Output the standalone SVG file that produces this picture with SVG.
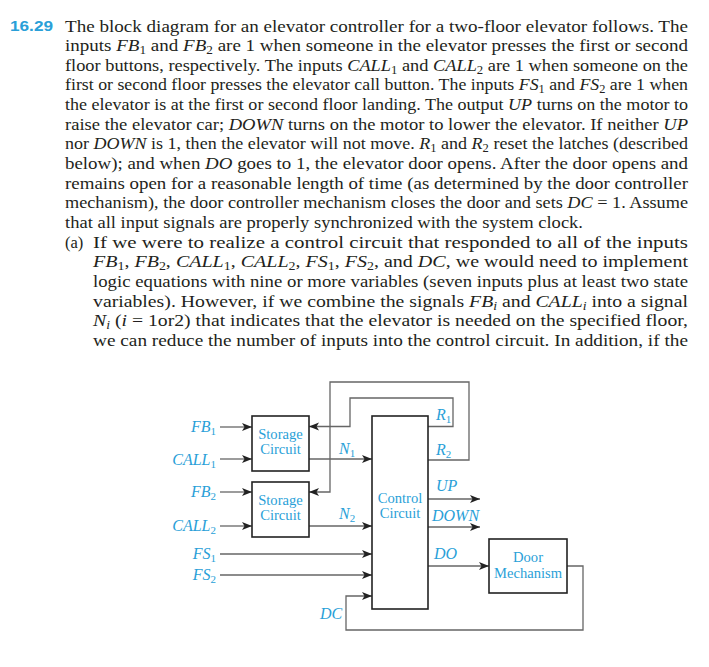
<svg xmlns="http://www.w3.org/2000/svg" width="709" height="667" viewBox="0 0 709 667">
<defs>
<style>
.t{font-family:"Liberation Serif",serif;font-size:16.5px;fill:#231f20}
.i{font-style:italic}
.s{font-size:11.5px}
.lb{font-family:"Liberation Serif",serif;font-size:16px;font-style:italic;fill:#2a9fd8}
.ls{font-size:11px;font-style:normal}
.bx{font-family:"Liberation Serif",serif;font-size:14.6px;fill:#2a9fd8;text-anchor:middle}
.w{fill:none;stroke:#666;stroke-width:1.3}
.box{fill:#fff;stroke:#222;stroke-width:1.6}
</style>
<marker id="ah" markerUnits="userSpaceOnUse" markerWidth="11" markerHeight="9" refX="10" refY="4" orient="auto">
<path d="M0,0 L10,4 L0,8 L2.5,4 Z" fill="#222"/>
</marker>
</defs>
<rect width="709" height="667" fill="#fff"/>
<g id="text">
<text x="10" y="31" font-family="Liberation Sans,sans-serif" font-weight="bold" font-size="15.5" fill="#2a9fd8" textLength="43" lengthAdjust="spacingAndGlyphs">16.29</text>
<text class="t" x="65" y="31.5" textLength="623" lengthAdjust="spacingAndGlyphs">The block diagram for an elevator controller for a two-floor elevator follows. The</text>
<text class="t" x="65" y="51.15" textLength="623" lengthAdjust="spacingAndGlyphs">inputs <tspan class="i">FB</tspan><tspan class="s" dy="3">1</tspan><tspan dy="-3"> and </tspan><tspan class="i">FB</tspan><tspan class="s" dy="3">2</tspan><tspan dy="-3"> are 1 when someone in the elevator presses the first or second</tspan></text>
<text class="t" x="65" y="70.8" textLength="623" lengthAdjust="spacingAndGlyphs">floor buttons, respectively. The inputs <tspan class="i">CALL</tspan><tspan class="s" dy="3">1</tspan><tspan dy="-3"> and </tspan><tspan class="i">CALL</tspan><tspan class="s" dy="3">2</tspan><tspan dy="-3"> are 1 when someone on the</tspan></text>
<text class="t" x="65" y="90.45" textLength="623" lengthAdjust="spacingAndGlyphs">first or second floor presses the elevator call button. The inputs <tspan class="i">FS</tspan><tspan class="s" dy="3">1</tspan><tspan dy="-3"> and </tspan><tspan class="i">FS</tspan><tspan class="s" dy="3">2</tspan><tspan dy="-3"> are 1 when</tspan></text>
<text class="t" x="65" y="110.1" textLength="623" lengthAdjust="spacingAndGlyphs">the elevator is at the first or second floor landing. The output <tspan class="i">UP</tspan> turns on the motor to</text>
<text class="t" x="65" y="129.75" textLength="623" lengthAdjust="spacingAndGlyphs">raise the elevator car; <tspan class="i">DOWN</tspan> turns on the motor to lower the elevator. If neither <tspan class="i">UP</tspan></text>
<text class="t" x="65" y="149.4" textLength="623" lengthAdjust="spacingAndGlyphs">nor <tspan class="i">DOWN</tspan> is 1, then the elevator will not move. <tspan class="i">R</tspan><tspan class="s" dy="3">1</tspan><tspan dy="-3"> and </tspan><tspan class="i">R</tspan><tspan class="s" dy="3">2</tspan><tspan dy="-3"> reset the latches (described</tspan></text>
<text class="t" x="65" y="169.05" textLength="623" lengthAdjust="spacingAndGlyphs">below); and when <tspan class="i">DO</tspan> goes to 1, the elevator door opens. After the door opens and</text>
<text class="t" x="65" y="188.7" textLength="623" lengthAdjust="spacingAndGlyphs">remains open for a reasonable length of time (as determined by the door controller</text>
<text class="t" x="65" y="208.35" textLength="623" lengthAdjust="spacingAndGlyphs">mechanism), the door controller mechanism closes the door and sets <tspan class="i">DC</tspan> = 1. Assume</text>
<text class="t" x="65" y="228" textLength="518" lengthAdjust="spacingAndGlyphs">that all input signals are properly synchronized with the system clock.</text>
<text class="t" x="65" y="247.65">(a)</text>
<text class="t" x="93" y="247.65" textLength="595" lengthAdjust="spacingAndGlyphs">If we were to realize a control circuit that responded to all of the inputs</text>
<text class="t" x="93" y="267.3" textLength="595" lengthAdjust="spacingAndGlyphs"><tspan class="i">FB</tspan><tspan class="s" dy="3">1</tspan><tspan dy="-3">, </tspan><tspan class="i">FB</tspan><tspan class="s" dy="3">2</tspan><tspan dy="-3">, </tspan><tspan class="i">CALL</tspan><tspan class="s" dy="3">1</tspan><tspan dy="-3">, </tspan><tspan class="i">CALL</tspan><tspan class="s" dy="3">2</tspan><tspan dy="-3">, </tspan><tspan class="i">FS</tspan><tspan class="s" dy="3">1</tspan><tspan dy="-3">, </tspan><tspan class="i">FS</tspan><tspan class="s" dy="3">2</tspan><tspan dy="-3">, and </tspan><tspan class="i">DC</tspan>, we would need to implement</text>
<text class="t" x="93" y="286.95" textLength="595" lengthAdjust="spacingAndGlyphs">logic equations with nine or more variables (seven inputs plus at least two state</text>
<text class="t" x="93" y="306.6" textLength="595" lengthAdjust="spacingAndGlyphs">variables). However, if we combine the signals <tspan class="i">FB</tspan><tspan class="s i" dy="3">i</tspan><tspan dy="-3"> and </tspan><tspan class="i">CALL</tspan><tspan class="s i" dy="3">i</tspan><tspan dy="-3"> into a signal</tspan></text>
<text class="t" x="93" y="326.25" textLength="595" lengthAdjust="spacingAndGlyphs"><tspan class="i">N</tspan><tspan class="s i" dy="3">i</tspan><tspan dy="-3"> (</tspan><tspan class="i">i</tspan> = 1or2) that indicates that the elevator is needed on the specified floor,</text>
<text class="t" x="93" y="345.9" textLength="595" lengthAdjust="spacingAndGlyphs">we can reduce the number of inputs into the control circuit. In addition, if the</text>
</g>
<g id="connectors">
<line class="w" x1="220" y1="427" x2="252" y2="427" marker-end="url(#ah)"/>
<line class="w" x1="220" y1="459" x2="252" y2="459" marker-end="url(#ah)"/>
<line class="w" x1="220" y1="492" x2="252" y2="492" marker-end="url(#ah)"/>
<line class="w" x1="220" y1="526" x2="252" y2="526" marker-end="url(#ah)"/>
<line class="w" x1="309" y1="459" x2="372" y2="459" marker-end="url(#ah)"/>
<line class="w" x1="309" y1="526" x2="372" y2="526" marker-end="url(#ah)"/>
<line class="w" x1="220" y1="554" x2="372" y2="554" marker-end="url(#ah)"/>
<line class="w" x1="220" y1="575" x2="372" y2="575" marker-end="url(#ah)"/>
<polyline class="w" points="567,566 583,566 583,630 346,630 346,596 372,596" marker-end="url(#ah)"/>
<polyline class="w" points="428,426.5 453,426.5 453,398 350,398 350,426.5 309,426.5" marker-end="url(#ah)"/>
<polyline class="w" points="428,460 469,460 469,382 330,382 330,492 309,492" marker-end="url(#ah)"/>
<line class="w" x1="428" y1="499" x2="480" y2="499" marker-end="url(#ah)"/>
<line class="w" x1="428" y1="527" x2="480" y2="527" marker-end="url(#ah)"/>
<line class="w" x1="428" y1="566" x2="489" y2="566" marker-end="url(#ah)"/>
</g>
<g id="storage1">
<rect class="box" x="252" y="416" width="57" height="55"/>
<text class="bx" x="280.5" y="439">Storage</text>
<text class="bx" x="280.5" y="454">Circuit</text>
</g>
<g id="storage2">
<rect class="box" x="252" y="482" width="57" height="55"/>
<text class="bx" x="280.5" y="505">Storage</text>
<text class="bx" x="280.5" y="520">Circuit</text>
</g>
<g id="control">
<rect class="box" x="372" y="416" width="56" height="193"/>
<text class="bx" x="400" y="503">Control</text>
<text class="bx" x="400" y="518">Circuit</text>
</g>
<g id="door">
<rect class="box" x="489" y="539" width="78" height="54" stroke-width="2"/>
<text class="bx" x="528" y="562">Door</text>
<text class="bx" x="528" y="578">Mechanism</text>
</g>
<g id="labels">
<text class="lb" x="216" y="432" text-anchor="end">FB<tspan class="ls" dy="3">1</tspan></text>
<text class="lb" x="216" y="465" text-anchor="end">CALL<tspan class="ls" dy="3">1</tspan></text>
<text class="lb" x="216" y="497" text-anchor="end">FB<tspan class="ls" dy="3">2</tspan></text>
<text class="lb" x="216" y="531" text-anchor="end">CALL<tspan class="ls" dy="3">2</tspan></text>
<text class="lb" x="216" y="559" text-anchor="end">FS<tspan class="ls" dy="3">1</tspan></text>
<text class="lb" x="216" y="580" text-anchor="end">FS<tspan class="ls" dy="3">2</tspan></text>
<text class="lb" x="339" y="454">N<tspan class="ls" dy="3">1</tspan></text>
<text class="lb" x="339" y="519">N<tspan class="ls" dy="3">2</tspan></text>
<text class="lb" x="320" y="619">DC</text>
<text class="lb" x="436" y="420">R<tspan class="ls" dy="3">1</tspan></text>
<text class="lb" x="436" y="455">R<tspan class="ls" dy="3">2</tspan></text>
<text class="lb" x="436" y="491">UP</text>
<text class="lb" x="432" y="521">DOWN</text>
<text class="lb" x="434" y="559">DO</text>
</g>
</svg>
